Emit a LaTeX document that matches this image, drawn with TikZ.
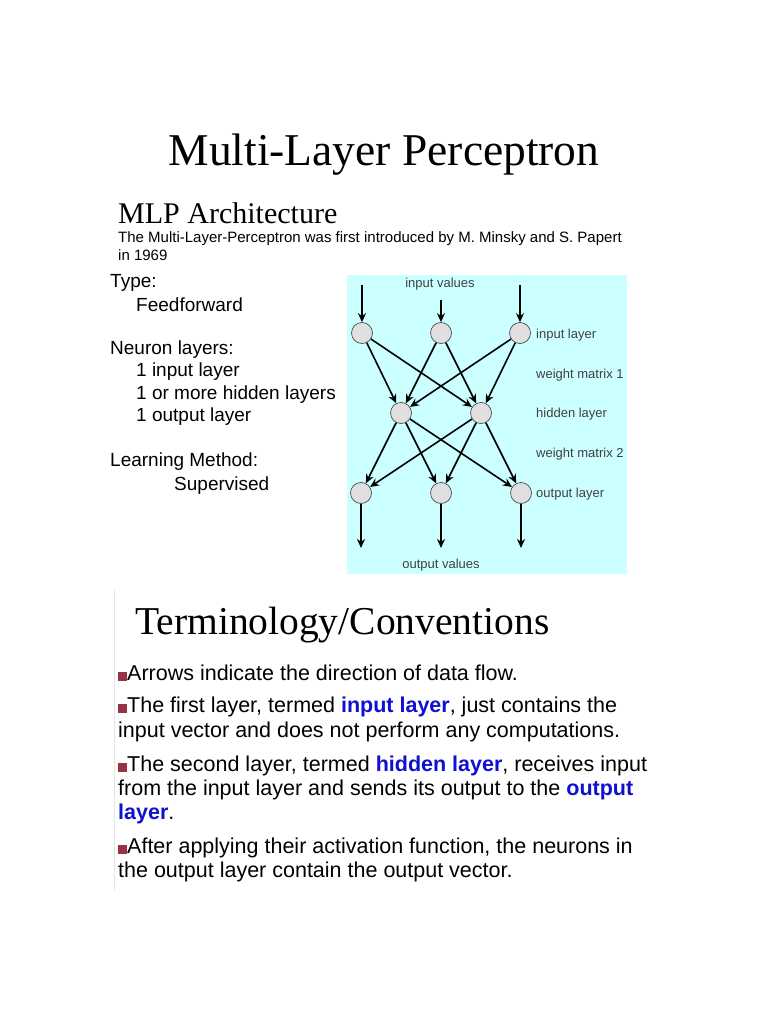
\documentclass[tikz,border=0pt]{standalone}
\usepackage{fontspec}
\setmainfont{Liberation Serif}
\newfontfamily\sans{Liberation Sans}
\usetikzlibrary{arrows.meta}
\definecolor{bgc}{HTML}{CCFFFF}
\definecolor{bul}{HTML}{993344}
\definecolor{kw}{HTML}{1010D0}
\newcommand{\bsq}{{\color{bul}\rule{9pt}{9pt}}}
\begin{document}
\begin{tikzpicture}[x=1pt,y=-1pt,
  neuron/.style={circle,draw=black!70,fill=black!12,minimum size=21pt,inner sep=0pt,line width=0.7pt},
  conn/.style={-{Stealth[length=9pt,width=8pt]},line width=1.6pt},
  lbl/.style={anchor=west,font=\sans\fontsize{13}{14}\selectfont,text=black!75,inner sep=0pt},
  side/.style={anchor=west,font=\sans\fontsize{19}{22}\selectfont,inner sep=0pt},
  body/.style={anchor=west,font=\sans\fontsize{21.5}{24}\selectfont,inner sep=0pt}]
\useasboundingbox (0,0) rectangle (768,1024);
\fill[white] (0,0) rectangle (768,1024);
\node[font=\fontsize{45.5}{50}\selectfont] (title) at (384,155) {Multi-Layer Perceptron};
\node[anchor=west,inner sep=0pt,font=\fontsize{30}{32}\selectfont] (mlp) at (118,213) {MLP Architecture};
\node[anchor=west,inner sep=0pt,font=\sans\fontsize{15}{16}\selectfont] (intro1) at (118,239) {The Multi-Layer-Perceptron was first introduced by M. Minsky and S. Papert};
\node[anchor=west,inner sep=0pt,font=\sans\fontsize{15}{16}\selectfont] (intro2) at (118,255) {in 1969};
\node[side] (t1) at (110,283) {Type:};
\node[side] (t2) at (136,305) {Feedforward};
\node[side] (t3) at (110,350) {Neuron layers:};
\node[side] (t4) at (136,372) {1 input layer};
\node[side] (t5) at (136,395) {1 or more hidden layers};
\node[side] (t6) at (136,417) {1 output layer};
\node[side] (t7) at (110,462) {Learning Method:};
\node[side] (t8) at (174,486) {Supervised};
% diagram
\fill[bgc] (347,275) rectangle (627,574);
\node[neuron] (i1) at (362,333) {};
\node[neuron] (i2) at (441,333) {};
\node[neuron] (i3) at (520,333) {};
\node[neuron] (h1) at (401,413) {};
\node[neuron] (h2) at (481,413) {};
\node[neuron] (o1) at (361,493) {};
\node[neuron] (o2) at (441,493) {};
\node[neuron] (o3) at (521,493) {};
\coordinate (a1) at (362,285); \coordinate (a2) at (441,300); \coordinate (a3) at (520,285);
\coordinate (b1) at (361,548); \coordinate (b2) at (441,548); \coordinate (b3) at (521,548);
\draw[conn] (a1) -- (i1); \draw[conn] (a2) -- (i2); \draw[conn] (a3) -- (i3);
\foreach \i in {i1,i2,i3}{\foreach \h in {h1,h2}{\draw[conn] (\i) -- (\h);}}
\foreach \h in {h1,h2}{\foreach \o in {o1,o2,o3}{\draw[conn] (\h) -- (\o);}}
\draw[conn] (o1) -- (b1); \draw[conn] (o2) -- (b2); \draw[conn] (o3) -- (b3);
\node[lbl,anchor=center] (iv) at (440,284) {input values};
\node[lbl] (il) at (536,335) {input layer};
\node[lbl] (w1) at (536,375) {weight matrix 1};
\node[lbl] (hl) at (536,414) {hidden layer};
\node[lbl] (w2) at (536,454) {weight matrix 2};
\node[lbl] (ol) at (536,494) {output layer};
\node[lbl,anchor=center] (ov) at (441,565) {output values};
% terminology
\draw[black!10,line width=1pt] (114,590) -- (114,890);
\node[anchor=west,inner sep=0pt,font=\fontsize{39.5}{44}\selectfont] (term) at (135,625) {Terminology/Conventions};
\node[body] (l1) at (118,673) {\bsq Arrows indicate the direction of data flow.};
\node[body] (l2) at (118,707) {\bsq The first layer, termed {\color{kw}\bfseries input layer}, just contains the};
\node[body] (l3) at (118,732) {input vector and does not perform any computations.};
\node[body] (l4) at (118,766) {\bsq The second layer, termed {\color{kw}\bfseries hidden layer}, receives input};
\node[body] (l5) at (118,790) {from the input layer and sends its output to the {\color{kw}\bfseries output}};
\node[body] (l6) at (118,814) {{\color{kw}\bfseries layer}.};
\node[body] (l7) at (118,848) {\bsq After applying their activation function, the neurons in};
\node[body] (l8) at (118,872) {the output layer contain the output vector.};
\end{tikzpicture}
\end{document}
